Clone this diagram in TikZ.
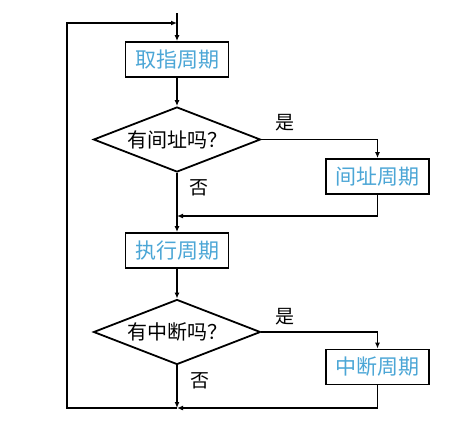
\documentclass[tikz,border=0pt]{standalone}
\usepackage{fontspec}
\setmainfont{Noto Sans CJK SC}
\usetikzlibrary{shapes.geometric,arrows.meta}
\definecolor{cyclecol}{HTML}{4BA6D6}

\begin{document}
\begin{tikzpicture}[
                    x=1pt, y=-1pt,
                    line width=1.8pt,
                    >={Latex[length=6pt,width=5pt]},
                    cycle/.style={
                        draw,
                        rectangle,
                        minimum width=103pt,
                        minimum height=35pt,
                        inner sep=0pt,
                        text=cyclecol,
                        font=\fontsize{21}{21}\selectfont
                    },
                    question/.style={
                        draw,
                        diamond,
                        aspect=2.57,
                        minimum width=167pt,
                        minimum height=65pt,
                        inner sep=0pt,
                        font=\fontsize{20}{20}\selectfont
                    },
                    answer/.style={
                        font=\fontsize{19}{19}\selectfont
                    }
                ]

                    \useasboundingbox[fill=white] (0,0) rectangle (474,445);

                    \node[cycle] (fetch) at (177,59.5) {取指周期};
                    \node[question] (d1) at (177,139.5) {有间址吗？};
                    \node[cycle] (ind) at (377.5,176.5) {间址周期};
                    \node[cycle] (exec) at (177,250.5) {执行周期};
                    \node[question] (d2) at (177,332) {有中断吗？};
                    \node[cycle] (int) at (377.5,367) {中断周期};

                    \node[answer] (yes1) at (285,123) {是};
                    \node[answer] (no1) at (199,188) {否};
                    \node[answer] (yes2) at (285,317) {是};
                    \node[answer] (no2) at (200,381) {否};

                    \coordinate (start) at (177,13);
                    \coordinate (top) at (177,23);
                    \coordinate (m1) at (177,216);
                    \coordinate (m2) at (177,408);
                    \coordinate (loopbl) at (67,408);
                    \coordinate (looptl) at (67,23);

                    % Edges
                    \draw[->] (start) -- (fetch);
                    \draw[->] (fetch) -- (d1);
                    \draw[->] (d1.east) -| (ind.north);
                    \draw[->] (ind.south) |- (m1);
                    \draw[->] (d1.south) -- (exec);
                    \draw[->] (exec) -- (d2);
                    \draw[->] (d2.east) -| (int.north);
                    \draw[->] (int.south) |- (m2);
                    \draw[->] (d2.south) -- (m2);
                    \draw[->] (m2) -- (loopbl) -- (looptl) -- (top);
                \end{tikzpicture}
\end{document}
